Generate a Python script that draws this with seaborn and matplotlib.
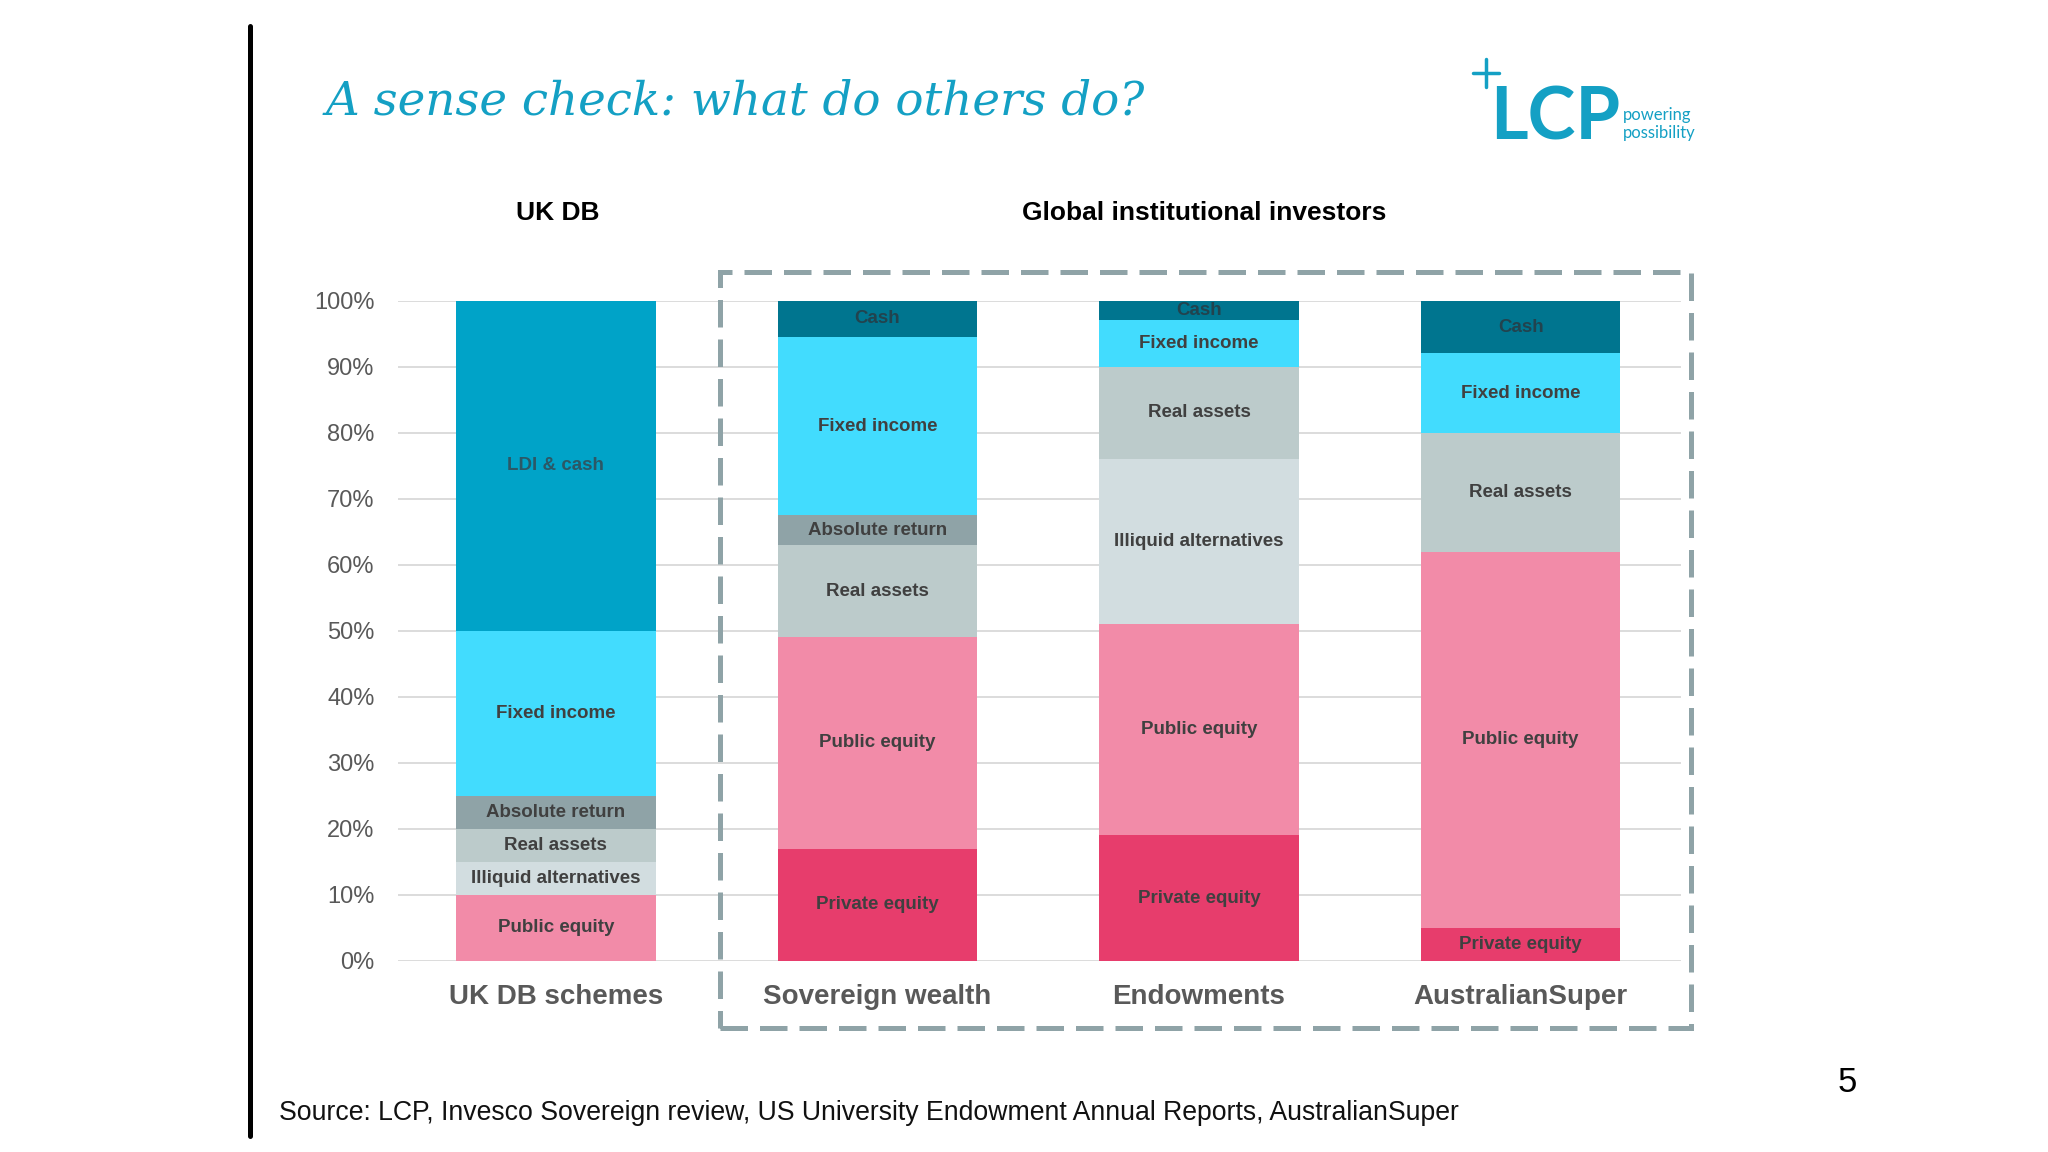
import numpy as np
import pandas as pd
import matplotlib
matplotlib.use("Agg")
import matplotlib.pyplot as plt
from matplotlib.lines import Line2D
from matplotlib.patches import Rectangle
import seaborn as sns

# ---------------- data ----------------
categories = ["UK DB schemes", "Sovereign wealth", "Endowments", "AustralianSuper"]

uk_segments = ["Public equity", "Illiquid alternatives", "Real assets", "Absolute return", "Fixed income", "LDI & cash"]
uk_values = [10, 5, 5, 5, 25, 50]

sw_segments = ["Private equity", "Public equity", "Real assets", "Absolute return", "Fixed income", "Cash"]
sw_values = [17, 32, 14, 4.5, 27, 5.5]

en_segments = ["Private equity", "Public equity", "Illiquid alternatives", "Real assets", "Fixed income", "Cash"]
en_values = [19, 32, 25, 14, 7, 3]

au_segments = ["Private equity", "Public equity", "Real assets", "Fixed income", "Cash"]
au_values = [5, 57, 18, 12, 8]

y_ticks = [0, 10, 20, 30, 40, 50, 60, 70, 80, 90, 100]
y_tick_labels = [f"{t}%" for t in y_ticks]

segment_colors = {
    "LDI & cash": "#00A3C8",
    "Cash": "#00758F",
    "Fixed income": "#42DCFE",
    "Absolute return": "#8FA3A7",
    "Real assets": "#BCCBCB",
    "Illiquid alternatives": "#D2DDE0",
    "Public equity": "#F28BA8",
    "Private equity": "#E73D6C",
}
dark_label = {"LDI & cash": "#2B5866", "Cash": "#22434E"}

stacks = {
    categories[0]: (uk_segments, uk_values),
    categories[1]: (sw_segments, sw_values),
    categories[2]: (en_segments, en_values),
    categories[3]: (au_segments, au_values),
}

# ---------------- figure ----------------
sns.set_theme(style="white")
plt.rcParams["font.family"] = ["Liberation Sans", "DejaVu Sans"]

fig = plt.figure(figsize=(20.48, 11.52), dpi=100)
fig.patch.set_facecolor("white")
ax = fig.add_axes([0.1945, 0.166, 0.6265, 0.573])

# stacked bars via overlaid cumulative seaborn barplots
max_levels = max(len(s[0]) for s in stacks.values())
for level in range(max_levels, 0, -1):
    rows = []
    pal = {}
    for cat in categories:
        segs, vals = stacks[cat]
        if len(segs) >= level:
            rows.append({"cat": cat, "top": float(np.sum(vals[:level]))})
            pal[cat] = segment_colors[segs[level - 1]]
    df = pd.DataFrame(rows)
    sns.barplot(data=df, x="cat", y="top", hue="cat", order=categories,
                hue_order=list(pal.keys()), palette=pal, dodge=False,
                width=0.62, saturation=1, linewidth=0, legend=False, ax=ax,
                zorder=3)

# segment labels
for i, cat in enumerate(categories):
    segs, vals = stacks[cat]
    bottom = 0
    for s, v in zip(segs, vals):
        ax.text(i, bottom + v / 2, s, ha="center", va="center",
                fontsize=13.5, fontweight="bold",
                color=dark_label.get(s, "#404040"), zorder=5)
        bottom += v

ax.set_xlim(-0.49, 3.5)
ax.set_ylim(0, 100)
ax.set_yticks(y_ticks)
ax.set_yticklabels(y_tick_labels)
ax.set_xlabel("")
ax.set_ylabel("")
ax.grid(axis="y", color="#D9D9D9", linewidth=1.3, zorder=0)
ax.grid(axis="x", visible=False)
for sp in ax.spines.values():
    sp.set_visible(False)
ax.tick_params(axis="y", length=0, pad=17, labelsize=17, labelcolor="#595959")
ax.tick_params(axis="x", length=0, pad=17, labelsize=20, labelcolor="#595959")
for lbl in ax.get_xticklabels():
    lbl.set_fontweight("bold")
ax.set_axisbelow(True)

W, H = 2048, 1152
def fx(px):
    return px / W
def fy(py):
    return 1 - py / H

# section headers
fig.text(fx(558), fy(213), "UK DB", ha="center", va="center",
         fontsize=19, fontweight="bold", color="black")
fig.text(fx(1204), fy(213), "Global institutional investors", ha="center",
         va="center", fontsize=19, fontweight="bold", color="black")

# dashed box
fig.add_artist(Rectangle((fx(720), fy(1028)), fx(1691) - fx(720), fy(272) - fy(1028),
                         transform=fig.transFigure, fill=False,
                         edgecolor="#8FA3A7", linewidth=3.6,
                         linestyle=(0, (5.5, 2.4))))

# left black rule
fig.add_artist(Line2D([fx(250), fx(250)], [fy(26), fy(1136)],
                      transform=fig.transFigure, color="black", linewidth=3.6))

# title
teal = "#14A0C4"
fig.text(fx(326), fy(102), "A sense check: what do others do?", ha="left",
         va="center", fontsize=33.7, fontstyle="italic", color=teal,
         family=["DejaVu Serif"])

# logo
fig.add_artist(Line2D([fx(1473), fx(1499)], [fy(73), fy(73)],
                      transform=fig.transFigure, color=teal, linewidth=2.5))
fig.add_artist(Line2D([fx(1486), fx(1486)], [fy(59), fy(87)],
                      transform=fig.transFigure, color=teal, linewidth=2.5))
fig.text(fx(1490), fy(140), "LCP", ha="left", va="baseline", fontsize=52,
         fontweight="bold", color=teal, family=["Lato", "DejaVu Sans"])
fig.text(fx(1623), fy(115), "powering", ha="left", va="center", fontsize=12,
         color=teal, family=["Lato", "DejaVu Sans"])
fig.text(fx(1623), fy(133), "possibility", ha="left", va="center", fontsize=12,
         color=teal, family=["Lato", "DejaVu Sans"])

# source and page number
fig.text(fx(279), fy(1113), "Source: LCP, Invesco Sovereign review, US University Endowment Annual Reports, AustralianSuper",
         ha="left", va="center", fontsize=19.2, color="#111111")
fig.text(fx(1847), fy(1083), "5", ha="center", va="center", fontsize=25,
         color="black")

fig.savefig("out.png", dpi=100, facecolor="white")
